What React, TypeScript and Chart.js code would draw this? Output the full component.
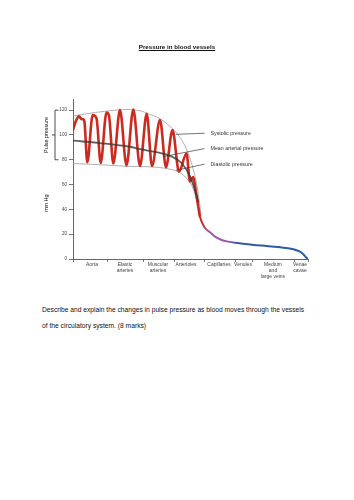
import React, { useEffect, useRef } from 'react';
import { Chart, registerables } from 'chart.js';

Chart.register(...registerables);

// ---- Data (x = position along the circulation, y = pressure in mm Hg) ----
const vesselLabels: string[][] = [
  ['Aorta'],
  ['Elastic', 'arteries'],
  ['Muscular', 'arteries'],
  ['Arterioles'],
  ['Capillaries'],
  ['Venules'],
  ['Medium', 'and', 'large veins'],
  ['Venae', 'cavae'],
];
const vesselLabelPos = [19, 52, 85, 113, 146, 170, 200, 227];
const vesselBoundaries = [0, 34, 70, 101, 131, 162, 179, 221, 235];
const yTickValues = [0, 20, 40, 60, 80, 100, 120];

const pressureX = [
  0, 3, 6, 8.7, 10.3, 11.5, 14.3, 19.7, 23.5, 27.7, 33.5, 36, 40.3, 47, 53.5, 60.3, 67,
  73.7, 79, 87, 93, 99.5, 106, 113.5, 117, 120, 123.7, 125.3, 127, 130.3, 132, 137, 142,
  148.7, 155.3, 162, 172, 188.7, 205.3, 215.3, 222, 227, 230.3, 233.7, 235,
];
const pressureY = [
  104, 111.5, 115, 112.7, 112.7, 110.5, 78, 116, 113.5, 77.5, 118, 115.5, 77, 120, 75.5, 120.5, 75,
  117, 75, 112, 74, 104, 70.5, 85, 62.5, 66, 50, 42, 34, 27.4, 25, 21.5, 18,
  15.3, 14, 13.1, 12.1, 10.8, 9.7, 8.6, 7.5, 5.9, 3.8, 0.8, 0,
];

const systolicX = [0, 17, 37, 54, 67, 74, 87, 99.5, 107, 112, 117, 121, 124, 126.5, 128];
const systolicY = [115.3, 117.5, 119.5, 120.5, 119.5, 117.5, 113, 105, 98, 91, 81, 70, 59, 45, 36];

const diastolicX = [0, 27, 54, 80, 93, 103, 109, 114, 118, 122, 125, 127];
const diastolicY = [77, 76, 74.8, 74.2, 73, 71, 68.5, 64.5, 60.5, 52, 43, 35];

const meanX = [0, 27, 57, 67, 87, 99, 109, 117, 122, 125.3];
const meanY = [95.4, 93.5, 90.5, 88.5, 85.5, 82.5, 77, 66.5, 55.5, 46];

const annotationLabels = ['Systolic pressure', 'Mean arterial pressure', 'Diastolic pressure'];
const annotationStartX = [103, 90, 103];
const annotationStartY = [100.5, 82.5, 71.5];
const annotationEndX = 131.5;
const annotationLabelX = 137.5;
const annotationLabelY = [101.4, 89, 76.5];

const titleText = 'Pressure in blood vessels';
const questionLines = [
  'Describe and explain the changes in pulse pressure as blood moves through the vessels',
  'of the circulatory system. (8 marks)',
];

const RED = '#cc2a1f';
const PURPLE = '#9b57ad';
const BLUE = '#2d5ca3';

const toPoints = (xs: number[], ys: number[]) => xs.map((x, i) => ({ x, y: ys[i] }));

const annotationPlugin = {
  id: 'vesselAnnotations',
  afterDraw(chart: any) {
    const { ctx, scales, chartArea } = chart;
    const xs = scales.x;
    const ys = scales.y;
    ctx.save();
    ctx.strokeStyle = '#3a3a3a';
    ctx.lineWidth = 0.7;
    ctx.fillStyle = '#333';
    ctx.font = '5.3px "Liberation Sans", Arial, sans-serif';
    ctx.textBaseline = 'middle';
    ctx.textAlign = 'left';
    annotationLabels.forEach((label, i) => {
      const x0 = xs.getPixelForValue(annotationStartX[i]);
      const y0 = ys.getPixelForValue(annotationStartY[i]);
      const x1 = xs.getPixelForValue(annotationEndX);
      const y1 = ys.getPixelForValue(annotationLabelY[i]);
      ctx.beginPath();
      ctx.moveTo(x0, y0);
      ctx.lineTo(x1, y1);
      ctx.stroke();
      ctx.fillText(label, xs.getPixelForValue(annotationLabelX), y1);
    });

    // Pulse pressure bracket
    const bx = chartArea.left - 18;
    const yTop = ys.getPixelForValue(120);
    const yBot = ys.getPixelForValue(80);
    const yMid = ys.getPixelForValue(100);
    ctx.strokeStyle = '#222';
    ctx.lineWidth = 0.8;
    ctx.beginPath();
    ctx.moveTo(bx + 3.5, yTop);
    ctx.lineTo(bx, yTop);
    ctx.lineTo(bx, yBot);
    ctx.lineTo(bx + 3.5, yBot);
    ctx.moveTo(bx, yMid);
    ctx.lineTo(bx - 3, yMid);
    ctx.stroke();

    ctx.fillStyle = '#111';
    ctx.font = '5.4px "Liberation Sans", Arial, sans-serif';
    ctx.textAlign = 'center';
    ctx.save();
    ctx.translate(chartArea.left - 26, yMid);
    ctx.rotate(-Math.PI / 2);
    ctx.fillText('Pulse pressure', 0, 0);
    ctx.restore();
    ctx.save();
    ctx.translate(chartArea.left - 26, ys.getPixelForValue(45));
    ctx.rotate(-Math.PI / 2);
    ctx.fillText('mm Hg', 0, 0);
    ctx.restore();
    ctx.restore();
  },
};

export default function App() {
  const canvasRef = useRef<HTMLCanvasElement | null>(null);

  useEffect(() => {
    if (!canvasRef.current) return;
    const gradient = (context: any) => {
      const chart = context.chart;
      const { chartArea, scales } = chart;
      if (!chartArea || !scales.x) return RED;
      const g = chart.ctx.createLinearGradient(chartArea.left, 0, chartArea.right, 0);
      const w = chartArea.right - chartArea.left;
      const stop = (v: number) => Math.min(1, Math.max(0, (scales.x.getPixelForValue(v) - chartArea.left) / w));
      g.addColorStop(0, RED);
      g.addColorStop(stop(128), RED);
      g.addColorStop(stop(137), PURPLE);
      g.addColorStop(stop(154), PURPLE);
      g.addColorStop(stop(166), BLUE);
      g.addColorStop(1, BLUE);
      return g;
    };

    const chart = new Chart(canvasRef.current, {
      type: 'line',
      data: {
        datasets: [
          {
            label: 'Pressure',
            data: toPoints(pressureX, pressureY),
            borderColor: gradient,
            borderWidth: 2.6,
            segment: {
              borderWidth: (ctx: any) => (ctx.p0.parsed.x < 127 ? 2.6 : 2),
            },
            cubicInterpolationMode: 'monotone',
            pointRadius: 0,
            fill: false,
            order: 1,
          },
          {
            label: 'Mean arterial pressure',
            data: toPoints(meanX, meanY),
            borderColor: 'rgba(55,55,55,0.8)',
            borderWidth: 1.8,
            tension: 0.4,
            pointRadius: 0,
            fill: false,
            order: 0,
          },
          {
            label: 'Systolic pressure',
            data: toPoints(systolicX, systolicY),
            borderColor: '#9a9a9a',
            borderWidth: 0.8,
            tension: 0.4,
            pointRadius: 0,
            fill: false,
            order: 2,
          },
          {
            label: 'Diastolic pressure',
            data: toPoints(diastolicX, diastolicY),
            borderColor: '#9a9a9a',
            borderWidth: 0.8,
            tension: 0.4,
            pointRadius: 0,
            fill: false,
            order: 2,
          },
        ],
      } as any,
      options: {
        animation: false,
        responsive: false,
        devicePixelRatio: 1,
        layout: { padding: { top: 99, right: 46, left: 0, bottom: 0 } },
        plugins: { legend: { display: false }, tooltip: { enabled: false } },
        scales: {
          x: {
            type: 'linear',
            min: 0,
            max: 235,
            afterBuildTicks: (scale: any) => {
              const vals = [...vesselBoundaries, ...vesselLabelPos].sort((a, b) => a - b);
              scale.ticks = vals.map((v) => ({ value: v }));
            },
            afterFit: (scale: any) => {
              scale.height = 41;
            },
            ticks: {
              autoSkip: false,
              maxRotation: 0,
              minRotation: 0,
              padding: 0,
              color: '#444',
              font: { family: '"Liberation Sans", Arial, sans-serif', size: 5, lineHeight: 1.15 },
              callback: (value: any) => {
                const i = vesselLabelPos.indexOf(Number(value));
                return i >= 0 ? vesselLabels[i] : '';
              },
            },
            grid: {
              drawOnChartArea: false,
              drawTicks: true,
              tickLength: 3,
              tickWidth: 0.8,
              tickColor: (ctx: any) =>
                ctx.tick && vesselBoundaries.includes(ctx.tick.value) ? '#555' : 'rgba(0,0,0,0)',
            },
            border: { display: true, color: '#555', width: 0.9 },
          },
          y: {
            type: 'linear',
            min: 0,
            max: 129,
            afterBuildTicks: (scale: any) => {
              scale.ticks = yTickValues.map((v) => ({ value: v }));
            },
            afterFit: (scale: any) => {
              scale.width = 73;
            },
            ticks: {
              padding: 2,
              color: '#444',
              font: { family: '"Liberation Sans", Arial, sans-serif', size: 4.6 },
            },
            grid: {
              drawOnChartArea: false,
              drawTicks: true,
              tickLength: 4,
              tickWidth: 0.8,
              tickColor: '#555',
            },
            border: { display: true, color: '#555', width: 0.9 },
          },
        },
      } as any,
      plugins: [annotationPlugin],
    });
    return () => chart.destroy();
  }, []);

  return (
    <div style={{ position: 'absolute', left: 0, top: 0, width: 354, height: 500, background: '#fff' }}>
      <canvas
        ref={canvasRef}
        width={354}
        height={300}
        style={{ position: 'absolute', left: 0, top: 0, width: 354, height: 300 }}
      />
      <div
        style={{
          position: 'absolute',
          left: 0,
          top: 43,
          width: 354,
          textAlign: 'center',
          fontFamily: '"Liberation Sans", Arial, sans-serif',
          fontWeight: 'bold',
          fontSize: 6.2,
          lineHeight: '8px',
          textDecoration: 'underline',
          color: '#111',
        }}
      >
        {titleText}
      </div>
      <div
        style={{
          position: 'absolute',
          left: 42,
          top: 302,
          fontFamily: '"Liberation Sans", Arial, sans-serif',
          fontSize: 6.7,
          lineHeight: '16px',
          color: '#111',
          whiteSpace: 'nowrap',
        }}
      >
        {questionLines.map((l, i) => (
          <div key={i}>{l}</div>
        ))}
      </div>
    </div>
  );
}
